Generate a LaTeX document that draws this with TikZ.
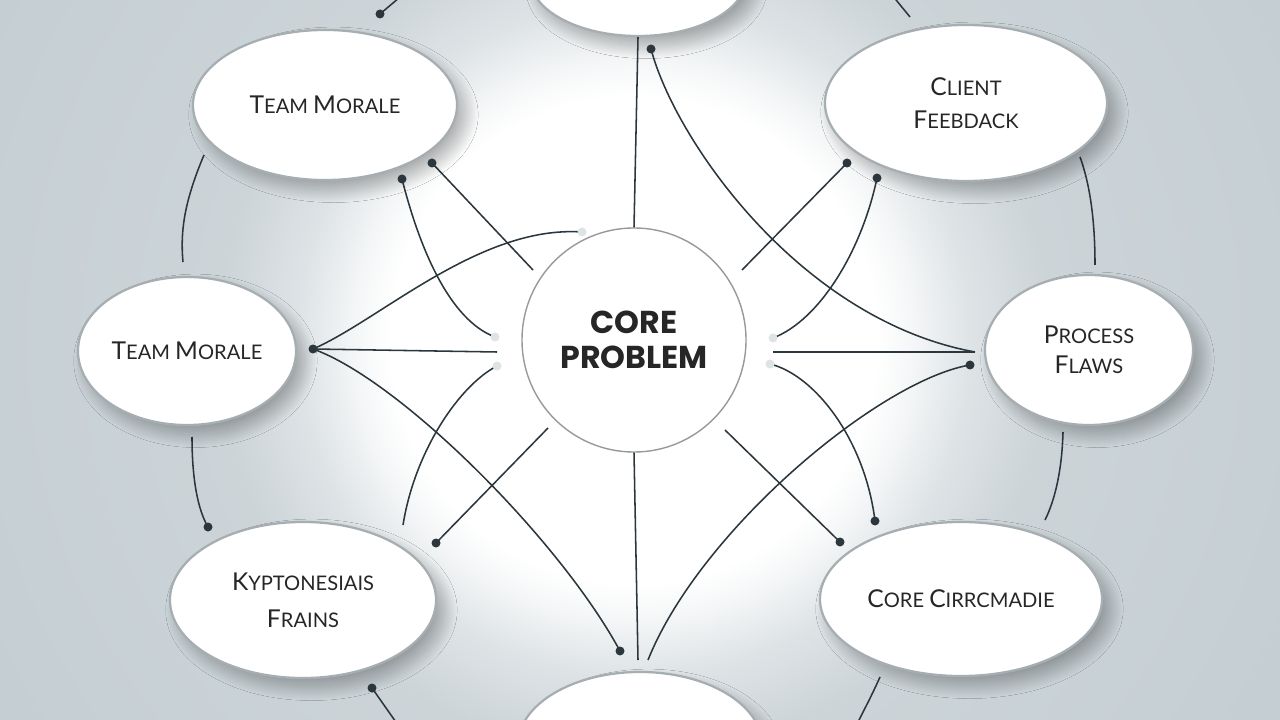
\documentclass[tikz,border=0pt]{standalone}
\usepackage{fontspec}
\setmainfont{Lato}
\newfontfamily\corefont{Poppins}
\usetikzlibrary{shapes.geometric, shadows.blur}

\definecolor{bgcol}{RGB}{184,196,202}
\definecolor{bglight}{RGB}{204,212,216}
\definecolor{linecol}{RGB}{44,55,61}
\definecolor{rimcol}{RGB}{166,174,178}
\definecolor{dotlight}{RGB}{222,227,229}

% glow of the centre and background in one shading
\pgfdeclareradialshading{coreglow}{\pgfpoint{0bp}{0bp}}{color(0bp)=(white); color(7.6bp)=(white); color(8.6bp)=(white!82!bglight); color(10.5bp)=(white!35!bglight); color(13bp)=(bglight); color(28bp)=(bglight!45!bgcol); color(50bp)=(bgcol)}

\newcommand{\capsword}[2]{{\fontsize{17.5}{23}\selectfont #1}#2}

\tikzset{
  bubble/.style={ellipse, fill=white, draw=rimcol, line width=1.6pt, inner sep=0pt,
    align=center, text=black!85, font=\fontsize{14.3}{23}\selectfont,
    blur shadow={shadow xshift=6pt, shadow yshift=-7pt, shadow opacity=30,
      shadow blur radius=9pt, shadow blur steps=30}},
  link/.style={linecol, line width=1.1pt},
}

\begin{document}
\begin{tikzpicture}[x=0.025cm, y=-0.025cm]
\clip (0,0) rectangle (1280,720);
\coordinate (mid) at (634,340);
\shade[shading=coreglow] (mid) circle (800);

% end points near the outer bubbles
\coordinate (mt1) at (432,163);
\coordinate (mt2) at (402,179);
\coordinate (mt3) at (380,14);
\coordinate (ml1) at (313,349);
\coordinate (cf1) at (847,163);
\coordinate (cf2) at (877,178);
\coordinate (pf1) at (970,365);
\coordinate (pf2) at (975,352);
\coordinate (cc1) at (840,542);
\coordinate (cc2) at (875,521);
\coordinate (kf1) at (436,543);
\coordinate (kf2) at (403,525);
\coordinate (tp1) at (651,49);
\coordinate (bt1) at (620,651);
\coordinate (bt2) at (648,660);
\coordinate (bt3) at (638,660);
\coordinate (bl1) at (372,688);

% end points round the core
\coordinate (c1) at (533,270);
\coordinate (c2) at (495,337);
\coordinate (c3) at (497,352);
\coordinate (c4) at (497,366);
\coordinate (c5) at (582,232);
\coordinate (c6) at (548,428);
\coordinate (c7) at (742,270);
\coordinate (c8) at (773,338);
\coordinate (c9) at (773,352);
\coordinate (c10) at (770,364);
\coordinate (c11) at (725,430);

% outer ring
\coordinate (r1) at (204,155);  \coordinate (r1b) at (183,262);
\coordinate (r2) at (192,437);  \coordinate (r2b) at (208,527);
\coordinate (r3) at (1080,157); \coordinate (r3b) at (1095,265);
\coordinate (r4) at (1063,432); \coordinate (r4b) at (1045,520);

\node[circle, fill=white, draw=black!40, line width=1pt, minimum size=5.6cm, inner sep=0pt,
  align=center, font=\corefont\bfseries\fontsize{22.5}{25}\selectfont, text=black!85] (core) at (mid) {CORE\\PROBLEM};

% links into the core
\draw[link] (mt1) -- (c1);
\draw[link] (mt2) .. controls (420,250) and (450,320) .. (c2);
\draw[link] (ml1) -- (c3);
\draw[link] (ml1) .. controls (380,320) and (480,225) .. (c5);
\draw[link] (ml1) .. controls (400,380) and (560,540) .. (bt1);
\draw[link] (c4) .. controls (460,385) and (415,450) .. (kf2);
\draw[link] (c6) -- (kf1);
\draw[link] (cf1) -- (c7);
\draw[link] (cf2) .. controls (862,250) and (820,320) .. (c8);
\draw[link] (tp1) .. controls (675,140) and (800,320) .. (pf2);
\draw[link] (c9) -- (pf2);
\draw[link] (c10) .. controls (815,375) and (865,440) .. (cc2);
\draw[link] (pf1) .. controls (880,380) and (700,530) .. (bt2);
\draw[link] (c11) -- (cc1);
\draw[link] (core.south) -- (bt3);

% ring between the bubbles
\draw[link] (r1) .. controls (185,200) and (180,230) .. (r1b);
\draw[link] (r2) .. controls (192,480) and (198,510) .. (r2b);
\draw[link] (r3) .. controls (1092,190) and (1095,230) .. (r3b);
\draw[link] (r4) .. controls (1062,470) and (1055,500) .. (r4b);
\draw[link] (mt3) -- ++(26,-22);
\draw[link] (892,-5) coordinate (tr1) -- (910,17);
\draw[link] (bl1) -- ++(26,37);
\draw[link] (880,677) coordinate (br1) .. controls (872,695) and (865,708) .. (858,722);

% bubbles
\node[bubble, minimum width=5.4cm, minimum height=2.9cm] (topell) at (638,-22) {};
\node[bubble, minimum width=6.1cm, minimum height=3.65cm] (botell) at (640,745) {};
\node[bubble, minimum width=6.6cm, minimum height=3.75cm] (moraletop) at (325,105) {\capsword{T}{EAM} \capsword{M}{ORALE}};
\node[bubble, minimum width=7.05cm, minimum height=3.9cm] (feedback) at (966,103) {\capsword{C}{LIENT}\\\capsword{F}{EEBDACK}};
\node[bubble, minimum width=5.45cm, minimum height=3.7cm] (moraleleft) at (187,351) {\capsword{T}{EAM} \capsword{M}{ORALE}};
\node[bubble, minimum width=5.2cm, minimum height=3.75cm] (flaws) at (1089,350) {\capsword{P}{ROCESS}\\[-2pt]\capsword{F}{LAWS}};
\node[bubble, minimum width=6.65cm, minimum height=3.9cm] (frains) at (303,600) {\capsword{K}{YPTONESIAIS}\\[3pt]\capsword{F}{RAINS}};
\node[bubble, minimum width=7.05cm, minimum height=3.85cm] (cirrc) at (961,599) {\capsword{C}{ORE} \capsword{C}{IRRCMADIE}};

\draw[link] (topell.south) -- (core.north);

% dots
\foreach \p in {mt1,mt2,mt3,ml1,cf1,cf2,pf1,cc1,cc2,kf1,tp1,bt1,r2b,bl1}
  \fill[linecol] (\p) circle (4.5);
\foreach \p in {c2,c4,c5,c8,c10}
  \fill[dotlight] (\p) circle (4.5);
\end{tikzpicture}
\end{document}
